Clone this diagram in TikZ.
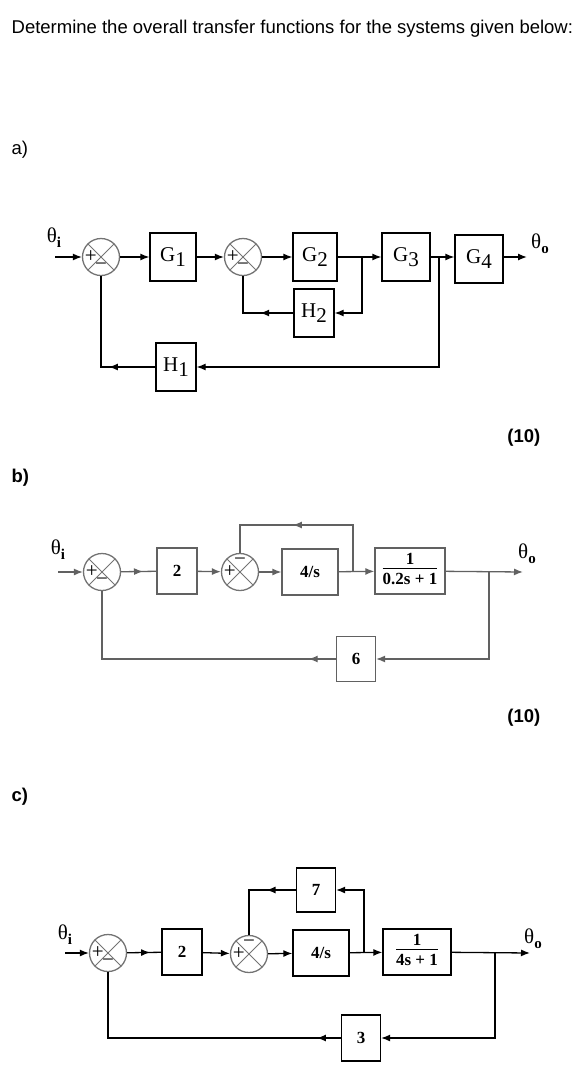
\documentclass[tikz,border=0pt]{standalone}
\usepackage{fontspec}
\setmainfont{Liberation Serif}
\newfontfamily\headfont{Liberation Sans}
\usetikzlibrary{arrows.meta,decorations.markings}

\definecolor{rimgray}{gray}{0.45}
\definecolor{wiregray}{gray}{0.38}
\newcommand{\lowidx}[1]{\raisebox{-0.5ex}{#1}}
\newcommand{\fracbox}[2]{{\setlength{\arrayrulewidth}{1.1pt}\begin{tabular}{@{}c@{}}#1\\[-2pt]\hline\rule{0pt}{15pt}#2\end{tabular}}}

\begin{document}
\begin{tikzpicture}[x=1pt,y=-1pt,>={Latex[length=9pt,width=7pt]},line width=1.3pt,
    block/.style={draw,inner sep=0pt,minimum width=#1,minimum height=48pt},
    block/.default=40pt,
    sum/.style={circle,draw=rimgray,minimum size=37pt,inner sep=0pt,
      path picture={\draw[rimgray,line width=0.9pt] (path picture bounding box.north west) -- (path picture bounding box.south east)
        (path picture bounding box.north east) -- (path picture bounding box.south west);}},
    sign/.style={font=\fontsize{21}{21}\selectfont,inner sep=0pt},
    bigtxt/.style={font=\fontsize{21}{21}\selectfont},
    boldtxt/.style={font=\bfseries\fontsize{17}{17}\selectfont},
    headtxt/.style={font=\headfont\fontsize{18.5}{20}\selectfont,inner sep=0pt,anchor=west},
    headbold/.style={headtxt,font=\headfont\bfseries\fontsize{18.5}{20}\selectfont},
    midarrow/.style={postaction={decorate},decoration={markings,mark=at position #1 with {\arrow{>}}}}]

  \useasboundingbox (0,0) rectangle (584,1080);

  % headings
  \node[headtxt] (title) at (11,29) {Determine the overall transfer functions for the systems given below:};
  \node[headtxt] (parta) at (11,150) {a)};
  \node[headbold,anchor=east] (marka) at (541,438) {(10)};
  \node[headbold] (partb) at (11,478) {b)};
  \node[headbold,anchor=east] (markb) at (541,718) {(10)};
  \node[headbold] (partc) at (11,797) {c)};

  % a)
  \node[bigtxt] (thai) at (54,238) {θ\lowidx{\fontsize{15}{15}\selectfont\bfseries i}};
  \node[bigtxt] (thao) at (540,244) {θ\lowidx{\fontsize{15}{15}\selectfont\bfseries o}};
  \coordinate (ina) at (55,257);
  \coordinate (outa) at (527,257);
  \node[sum] (sa1) at (101,257) {};
  \node[block=46pt,bigtxt] (ga1) at (173,257) {G\lowidx{1}};
  \node[sum] (sa2) at (243,257) {};
  \node[block=44pt,bigtxt] (ga2) at (315,257) {G\lowidx{2}};
  \node[block=40pt,bigtxt] (ha2) at (314,313) {H\lowidx{2}};
  \node[block=48pt,bigtxt] (ga3) at (406,257) {G\lowidx{3}};
  \node[block=48pt,bigtxt] (ga4) at (479,259) {G\lowidx{4}};
  \node[block=40pt,bigtxt] (ha1) at (176,367) {H\lowidx{1}};
  \coordinate (ja1) at (362,257);
  \coordinate (ja2) at (439,257);
  \node[sign] at ([xshift=9pt]sa1.west) {+};
  \node[sign] at ([yshift=9pt]sa1.south) {−};
  \node[sign] at ([xshift=9pt]sa2.west) {+};
  \node[sign] at ([yshift=9pt]sa2.south) {−};
  \draw[->] (ina) -- (sa1);
  \draw[->] (sa1) -- (ga1);
  \draw[->] (ga1) -- (sa2);
  \draw[->] (sa2) -- (ga2);
  \draw[->] (ga2) -- (ga3);
  \draw[->] (ja1) |- (ha2);
  \draw[midarrow=0.38] (ha2) -| (sa2);
  \draw[->] (ga3) -- (ga3 -| ga4.west);
  \draw[->] (ja2) |- (ha1);
  \draw[midarrow=0.32] (ha1) -| (sa1);
  \draw[->] (ga4.east |- outa) -- (outa);

  % b)
  \begin{scope}[draw=wiregray]
  \node[bigtxt] (thbi) at (58,550) {θ\lowidx{\fontsize{15}{15}\selectfont\bfseries i}};
  \node[bigtxt] (thbo) at (527,554) {θ\lowidx{\fontsize{15}{15}\selectfont\bfseries o}};
  \coordinate (inb) at (58,572);
  \coordinate (outb) at (523,572);
  \node[sum] (sb1) at (102,572) {};
  \node[block=40pt,boldtxt,minimum height=46pt] (kb2) at (177,571) {2};
  \node[sum] (sb2) at (240,572) {};
  \node[block=56pt,boldtxt,minimum height=46pt] (kb3) at (310,572) {4/s};
  \node[block=70pt,boldtxt,minimum height=46pt] (kb4) at (410,571) {\fracbox{1}{0.2s + 1}};
  \node[block=39pt,boldtxt,minimum height=45pt] (kb5) at (356,659) {6};
  \coordinate (jb1) at (353,572);
  \coordinate (jb2) at (489,572);
  \coordinate (tb1) at (353,525);
  \node[sign] at ([xshift=9pt]sb1.west) {+};
  \node[sign] at ([yshift=9pt]sb1.south) {−};
  \node[sign] at ([xshift=9pt]sb2.west) {+};
  \node[sign] at ([yshift=-9pt]sb2.north) {−};
  \draw[->] (inb) -- (sb1);
  \draw[midarrow=0.62] (sb1) -- (kb2);
  \draw[->] (kb2) -- (sb2);
  \draw[->] (sb2) -- (kb3);
  \draw[->] (kb3) -- (kb4);
  \draw[midarrow=0.57] (jb1) -- (tb1) -| (sb2);
  \draw[->] (kb4) -- (outb);
  \draw[->] (jb2) |- (kb5);
  \draw[midarrow=0.09] (kb5) -| (sb1);
  \end{scope}

  % c)
  \node[bigtxt] (thci) at (65,935) {θ\lowidx{\fontsize{15}{15}\selectfont\bfseries i}};
  \node[bigtxt] (thco) at (533,939) {θ\lowidx{\fontsize{15}{15}\selectfont\bfseries o}};
  \coordinate (inc) at (65,953);
  \coordinate (outc) at (530,953);
  \node[sum] (sc1) at (108,953) {};
  \node[block=40pt,boldtxt,minimum height=46pt] (kc2) at (182,952) {2};
  \node[sum] (sc2) at (249,954) {};
  \node[block=56pt,boldtxt,minimum height=46pt] (kc3) at (321,953) {4/s};
  \node[block=68pt,boldtxt,minimum height=46pt] (kc4) at (417,952) {\fracbox{1}{4s + 1}};
  \node[block=39pt,boldtxt,minimum height=44pt] (kc5) at (316,890) {7};
  \node[block=39pt,boldtxt,minimum height=46pt] (kc6) at (361,1038) {3};
  \coordinate (jc1) at (364,953);
  \coordinate (jc2) at (495,953);
  \node[sign] at ([xshift=9pt]sc1.west) {+};
  \node[sign] at ([yshift=9pt]sc1.south) {−};
  \node[sign] at ([xshift=9pt]sc2.west) {+};
  \node[sign] at ([yshift=-9pt]sc2.north) {−};
  \draw[->] (inc) -- (sc1);
  \draw[midarrow=0.67] (sc1) -- (kc2);
  \draw[->] (kc2) -- (sc2);
  \draw[->] (sc2) -- (kc3);
  \draw[->] (kc3) -- (kc4);
  \draw[->] (jc1) |- (kc5);
  \draw[midarrow=0.32] (kc5) -| (sc2);
  \draw[->] (kc4) -- (outc);
  \draw[->] (jc2) |- (kc6);
  \draw[midarrow=0.08] (kc6) -| (sc1);
\end{tikzpicture}
\end{document}
